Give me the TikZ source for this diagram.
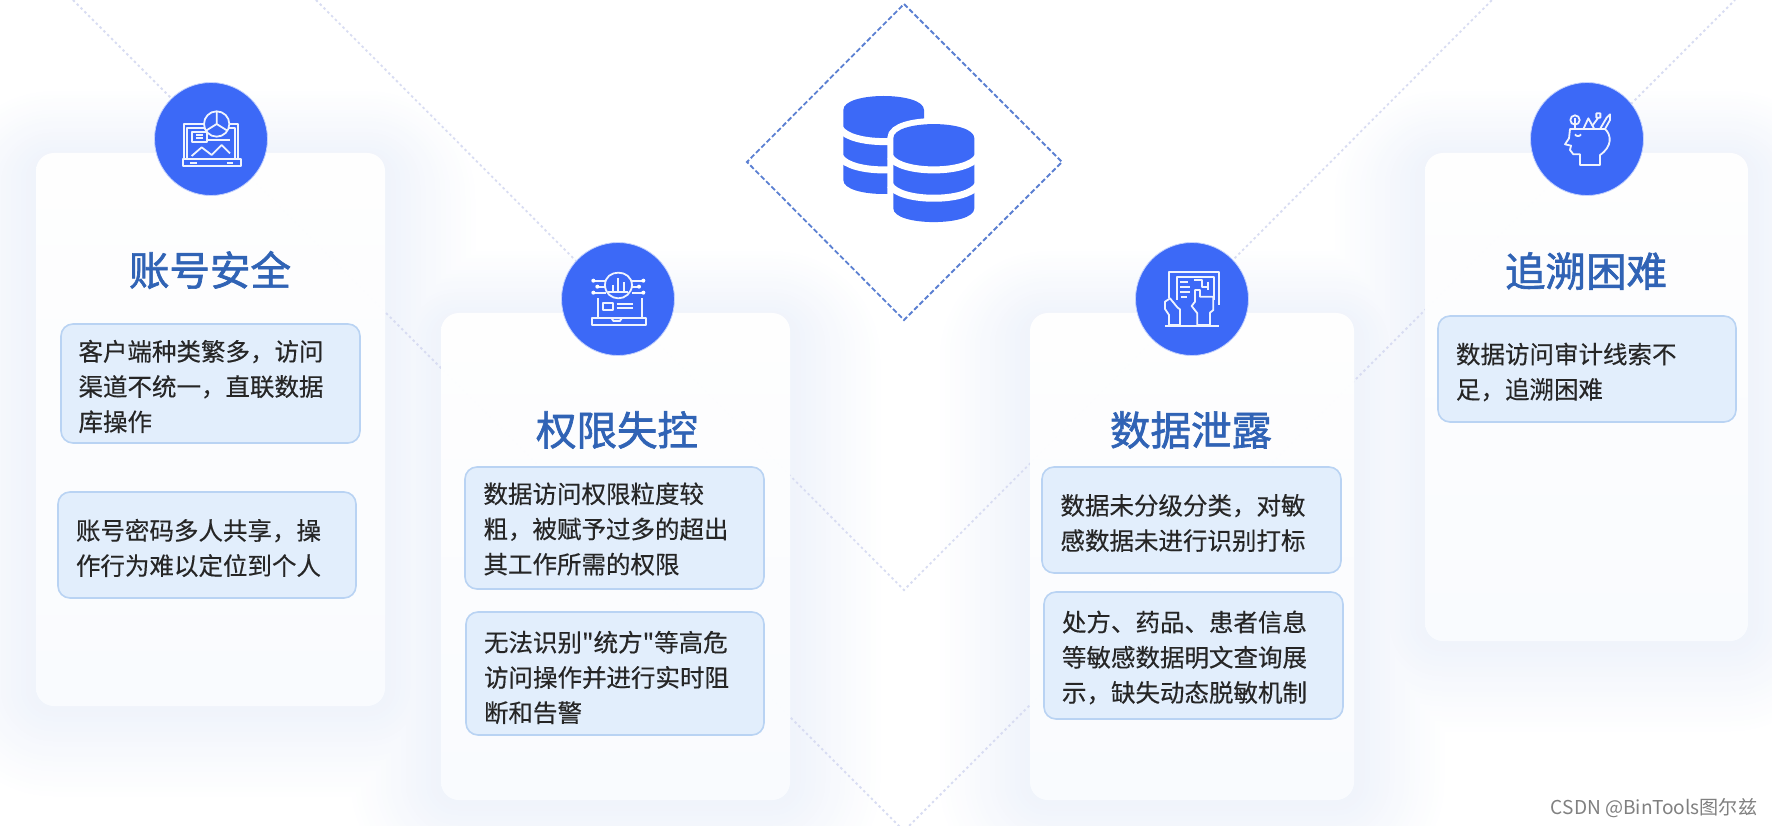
\documentclass[tikz,border=0pt]{standalone}
\usepackage{fontspec}
\newfontfamily\cjk[FakeBold=0.35]{Noto Sans CJK SC}
\newfontfamily\cjkmark{Noto Sans CJK SC}
\newfontfamily\cjktitle[FakeBold=1.6]{Noto Sans CJK SC}
\definecolor{iconblue}{HTML}{3C69F7}
\definecolor{titleblue}{HTML}{3063B5}
\definecolor{boxblue}{HTML}{E2EEFC}
\definecolor{boxlav}{HTML}{E9E8F5}
\definecolor{boxedge}{HTML}{B9D3F3}
\definecolor{dotline}{HTML}{D8DCF2}
\definecolor{dashblue}{HTML}{5B80D2}
\definecolor{glowblue}{HTML}{EFF3FB}
\definecolor{cardend}{HTML}{FAFCFF}
\tikzset{
    cardbox/.style={top color=white, bottom color=cardend, fill opacity=.97, rounded corners=18pt},
    infobox/.style={draw=boxedge, line width=1.6pt, rounded corners=12pt, left color=boxblue, middle color=boxlav, right color=boxblue, shading angle=30},
    bodytext/.style={font=\cjk\fontsize{24.5}{35.2}\selectfont, text=black!85, align=left, inner sep=0pt},
    titletext/.style={font=\cjktitle\fontsize{40.5}{44}\selectfont, text=titleblue, inner sep=0pt},
    iconcircle/.style={circle, fill=iconblue, draw=white!70!iconblue, line width=.8pt, minimum size=113pt, inner sep=0pt},
    iconline/.style={draw=white!92!iconblue, line width=1.8pt, line join=round},
    dotrule/.style={draw=dotline, line width=1.8pt, dash pattern=on 2.4pt off 3pt},
    dashrule/.style={draw=dashblue, line width=1.8pt, dash pattern=on 5pt off 2.5pt}
}
\newcommand{\cardglow}[4]{
    \foreach \g [evaluate=\g as \p using {100-\g*100/95}] in {95,90,...,5} {
        \fill[glowblue!\p!white, blend mode=darken, rounded corners={(\g+18)*1pt}] ({#1-\g},{#2-\g*.75+6}) rectangle ({#3+\g},{#4+\g});
    }
}
\begin{document}
\begin{tikzpicture}[x=1pt,y=-1pt]
    \clip (0,0) rectangle (1772,826);
    \fill[white] (0,0) rectangle (1772,826);
    \cardglow{36}{153}{385}{706}
    \cardglow{441}{313}{790}{800}
    \cardglow{1030}{313}{1354}{800}
    \cardglow{1425}{153}{1748}{641}
    \draw[dotrule] (316,0) -- (904,590) -- (1492,0);
    \draw[dotrule] (73,0) -- (904,831) -- (1735,0);
    \path[cardbox] (36,153) rectangle (385,706);
    \path[cardbox] (441,313) rectangle (790,800);
    \path[cardbox] (1030,313) rectangle (1354,800);
    \path[cardbox] (1425,153) rectangle (1748,641);
    \draw[dashrule] (904,4) -- (1062,162) -- (904,320) -- (747,162) -- cycle;

    \begin{scope}[shift={(730,0)},scale=1/3]
        \fill[iconblue] (340,330) .. controls (340,274) and (582,274) .. (582,330) -- (582,540) .. controls (582,596) and (340,596) .. (340,540) -- cycle;
        \draw[white, line width=7pt] (330,385) .. controls (360,438) and (562,438) .. (592,385);
        \draw[white, line width=7pt] (330,470) .. controls (360,523) and (562,523) .. (592,470);
        \draw[white, line width=12pt] (490,415) .. controls (490,358) and (733,358) .. (733,415) -- (733,625) .. controls (733,680) and (490,680) .. (490,625) -- cycle;
        \fill[white] (490,415) rectangle (733,625);
        \fill[iconblue] (490,415) .. controls (490,358) and (733,358) .. (733,415) -- (733,625) .. controls (733,680) and (490,680) .. (490,625) -- cycle;
        \draw[white, line width=7pt] (480,470) .. controls (510,523) and (713,523) .. (743,470);
        \draw[white, line width=7pt] (480,555) .. controls (510,608) and (713,608) .. (743,555);
    \end{scope}

    \node (circ1) [iconcircle] at (211,139) {};
    \node (circ2) [iconcircle] at (618,299) {};
    \node (circ3) [iconcircle] at (1192,299) {};
    \node (circ4) [iconcircle] at (1587,139) {};

    \begin{scope}[shift={(170,100)},scale=1/3,iconline]
        \draw (42,175) -- (42,72) -- (205,72) -- (205,175);
        \draw (52,175) -- (52,85) -- (195,85) -- (195,175);
        \draw (38,178) -- (212,178) -- (212,197) -- (38,197) -- cycle;
        \draw (66,95) rectangle (110,125);
        \draw (78,105) -- (98,105) (78,115) -- (98,115);
        \draw (110,120) -- (180,120);
        \draw (65,168) -- (95,142) -- (125,165) -- (155,135) -- (180,160);
        \draw (60,188) -- (80,188) (170,188) -- (190,188);
        \draw[fill=iconblue] (140,72) circle (38);
        \draw (140,72) -- (140,35) (140,72) -- (108,92) (140,72) -- (172,92);
    \end{scope}

    \begin{scope}[shift={(540,230)},scale=1/3,iconline]
        \draw (175,265) -- (175,205) (305,205) -- (305,265);
        \draw (155,265) -- (318,265) -- (318,285) -- (155,285) -- cycle;
        \draw (190,218) rectangle (220,240);
        \draw (230,222) -- (280,222) (230,234) -- (280,234);
        \draw (215,265) -- (245,265) -- (240,273) -- (220,273) -- cycle;
        \draw[fill=iconblue] (235,128) .. controls (255,128) and (275,140) .. (276,165) .. controls (275,190) and (255,205) .. (235,205) .. controls (215,205) and (195,190) .. (195,165) .. controls (195,140) and (215,128) .. (235,128) -- cycle;
        \draw (218,185) -- (218,165) (235,185) -- (235,145) (252,185) -- (252,155) (205,187) -- (265,187);
        \draw (160,152) -- (198,152) (160,188) -- (198,188) (175,170) -- (195,170);
        \draw (276,152) -- (310,152) (276,188) -- (310,188) (276,170) -- (295,170);
        \fill[white] (160,152) circle (6) (160,188) circle (6) (172,170) circle (6) (310,152) circle (6) (310,188) circle (6) (297,170) circle (6);
    \end{scope}

    \begin{scope}[shift={(1120,230)},scale=1/3,iconline]
        \draw (148,205) -- (148,125) -- (297,125) -- (297,225);
        \draw (170,210) -- (170,140) -- (283,140) -- (283,210);
        \draw (180,155) -- (205,155) (180,170) -- (210,170) (180,185) -- (210,185) (182,202) -- (200,202);
        \draw (222,150) -- (245,150) -- (245,170) -- (265,170) (265,155) -- (265,180);
        \draw[fill=iconblue] (225,215) -- (225,180) -- (240,180) -- (240,200) -- (280,200) -- (280,240) -- (270,248) -- (270,285) -- (232,285) -- (232,250) -- (215,228) -- cycle;
        \draw[fill=iconblue] (135,215) -- (150,205) -- (172,232) -- (180,238) -- (180,285) -- (147,285) -- (147,255) -- (135,237) -- cycle;
        \draw (135,287) -- (297,287);
    \end{scope}

    \begin{scope}[shift={(1555,105)},scale=1/3,iconline]
        \draw (75,180) -- (75,148) -- (55,148) -- (45,135) -- (48,122) -- (30,118) -- (42,100) -- (45,72) -- (150,72) .. controls (170,90) and (172,125) .. (135,150) -- (135,180) -- cycle;
        \draw (60,88) .. controls (63,95) and (75,95) .. (78,88);
        \draw (60,45) circle (14);
        \draw (60,40) -- (60,72);
        \draw (85,72) -- (100,40) -- (118,72);
        \draw (112,62) -- (130,38) (124,25) rectangle (136,38);
        \draw (135,72) -- (155,38) -- (165,28) -- (165,45) -- (150,72);
    \end{scope}

    \node (title1) [titletext] at (210,270) {账号安全};
    \node (title2) [titletext] at (617,430) {权限失控};
    \node (title3) [titletext] at (1191,430) {数据泄露};
    \node (title4) [titletext] at (1586,271) {追溯困难};

    \draw[infobox] (61,324) rectangle node[bodytext, text width=264pt, yshift=-3pt] (text1a) {客户端种类繁多，访问\\渠道不统一，直联数据\\库操作} (360,443);
    \draw[infobox] (58,492) rectangle node[bodytext, text width=262pt, yshift=-3pt] (text1b) {账号密码多人共享，操\\作行为难以定位到个人} (356,598);
    \draw[infobox] (465,467) rectangle node[bodytext, text width=262pt, yshift=-1pt] (text2a) {数据访问权限粒度较\\粗，被赋予过多的超出\\其工作所需的权限} (764,589);
    \draw[infobox] (466,612) rectangle node[bodytext, text width=262pt, yshift=-4pt] (text2b) {无法识别"统方"等高危\\访问操作并进行实时阻\\断和告警} (764,735);
    \draw[infobox] (1042,467) rectangle node[bodytext, text width=262pt, yshift=-3pt] (text3a) {数据未分级分类，对敏\\感数据未进行识别打标} (1341,573);
    \draw[infobox] (1044,592) rectangle node[bodytext, text width=263pt, yshift=-2pt] (text3b) {处方、药品、患者信息\\等敏感数据明文查询展\\示，缺失动态脱敏机制} (1343,719);
    \draw[infobox] (1438,316) rectangle node[bodytext, text width=262pt, yshift=-3pt] (text4a) {数据访问审计线索不\\足，追溯困难} (1736,422);

    \node (mark) [font=\cjkmark\fontsize{19.1}{21}\selectfont, text=black!50, inner sep=0pt] at (1654,808) {CSDN @BinTools图尔兹};
\end{tikzpicture}
\end{document}
